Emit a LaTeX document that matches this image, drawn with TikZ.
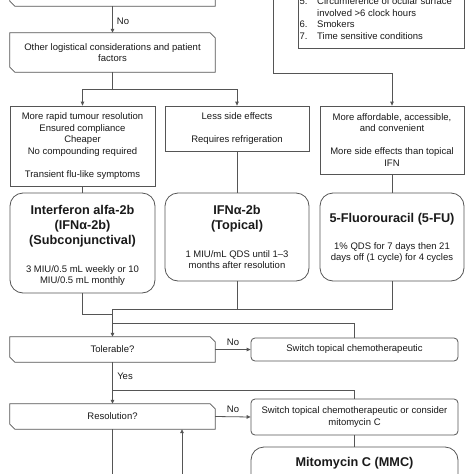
\documentclass[tikz,border=0pt]{standalone}
\usepackage{fontspec}
\setmainfont{Liberation Sans}
\usetikzlibrary{arrows.meta,calc}
\definecolor{lncol}{HTML}{555555}
\definecolor{txcol}{HTML}{1A1A1A}
\tikzset{
 ln/.style={draw=lncol, line width=0.8pt},
 arr/.style={ln, -{Triangle[length=4pt,width=3.6pt]}},
 txt/.style={text=txcol, font=\fontsize{9.5}{11.5}\selectfont, align=center, inner sep=0pt},
 ttl/.style={text=txcol, font=\fontsize{12.7}{15}\selectfont\bfseries, align=center, inner sep=0pt},
 sq/.style={ln, rectangle, inner sep=0pt},
 rnd/.style={ln, rectangle, rounded corners=13pt, inner sep=0pt},
 srnd/.style={ln, rectangle, rounded corners=4pt, inner sep=0pt},
 hid/.style={rectangle, inner sep=0pt},
 lbl/.style={text=txcol, font=\fontsize{9.5}{11.5}\selectfont, inner sep=0pt},
}
\begin{document}
\begin{tikzpicture}[x=1pt,y=-1pt]
\useasboundingbox (0,0) rectangle (474,474);
\clip (0,0) rectangle (474,474);
\fill[white] (0,0) rectangle (474,474);

% top partial boxes
\node[hid, minimum width=205pt, minimum height=56pt] (tl) at (112.5,-22) {};
\draw[ln] (tl.north west) -- ([xshift=-5pt]tl.north east) -- ([yshift=-5pt]tl.north east) -- (tl.south east) -- ([xshift=5pt]tl.south west) -- ([yshift=5pt]tl.south west) -- cycle;
\node[sq, minimum width=166pt, minimum height=108pt] (tr) at (381,-6) {};
\node[lbl, align=left, anchor=west] (trt) at (299.5,18.5) {\makebox[17.5pt][l]{5.}Circumference of ocular surface\\\hspace*{17.5pt}involved >6 clock hours\\\makebox[17.5pt][l]{6.}Smokers\\\makebox[17.5pt][l]{7.}Time sensitive conditions};
\coordinate (src) at (273,-10);

% other logistical
\node[hid, minimum width=205pt, minimum height=39pt, txt] (oth) at (112.5,52.5) {Other logistical considerations and patient\\factors};
\draw[ln] (oth.north west) -- ([xshift=-5pt]oth.north east) -- ([yshift=-5pt]oth.north east) -- (oth.south east) -- ([xshift=5pt]oth.south west) -- ([yshift=5pt]oth.south west) -- cycle;

% three option boxes
\node[sq, minimum width=145pt, minimum height=80pt, txt] (b1) at (82.5,146) {More rapid tumour resolution\\Ensured compliance\\Cheaper\\No compounding required\\[11.5pt]Transient flu-like symptoms};
\node[sq, minimum width=144pt, minimum height=45pt, txt] (b2) at (237,128.5) {Less side effects\\[11.5pt]Requires refrigeration};
\node[sq, minimum width=144pt, minimum height=68pt, txt] (b3) at (392,140) {More affordable, accessible,\\and convenient\\[11.5pt]More side effects than topical\\IFN};

% drug boxes
\node[rnd, minimum width=145pt, minimum height=100pt] (r1) at (82.5,243) {};
\node[ttl] (r1t) at (82.5,226.5) {Interferon alfa-2b\\(IFNα-2b)\\(Subconjunctival)};
\node[txt] (r1d) at (82.5,275.5) {3 MIU/0.5 mL weekly or 10\\MIU/0.5 mL monthly};
\node[rnd, minimum width=144pt, minimum height=88pt] (r2) at (237,237) {};
\node[ttl] (r2t) at (237,219) {IFNα-2b\\(Topical)};
\node[txt] (r2d) at (237,259.5) {1 MIU/mL QDS until 1–3\\months after resolution};
\node[rnd, minimum width=144pt, minimum height=88pt] (r3) at (392,237) {};
\node[ttl] (r3t) at (392,219) {5-Fluorouracil (5-FU)};
\node[txt] (r3d) at (392,252.5) {1\% QDS for 7 days then 21\\days off (1 cycle) for 4 cycles};

% decisions
\node[hid, minimum width=205pt, minimum height=25pt, txt] (tol) at (112.5,349.5) {Tolerable?};
\draw[ln] (tol.north west) -- ([xshift=-5pt]tol.north east) -- ([yshift=-5pt]tol.north east) -- (tol.south east) -- ([xshift=5pt]tol.south west) -- ([yshift=5pt]tol.south west) -- cycle;
\node[srnd, minimum width=207pt, minimum height=23pt, txt] (sw1) at (354.5,349.5) {Switch topical chemotherapeutic};
\node[hid, minimum width=205pt, minimum height=25pt, txt] (res) at (112.5,416.5) {Resolution?};
\draw[ln] (res.north west) -- ([xshift=-5pt]res.north east) -- ([yshift=-5pt]res.north east) -- (res.south east) -- ([xshift=5pt]res.south west) -- ([yshift=5pt]res.south west) -- cycle;
\node[srnd, minimum width=207pt, minimum height=36pt, txt] (sw2) at (354.5,417) {Switch topical chemotherapeutic or consider\\mitomycin C};
\node[rnd, minimum width=207pt, minimum height=80pt] (mmc) at (354.5,487) {};
\node[ttl] (mmct) at (354.5,463) {Mitomycin C (MMC)};

% connectors
\draw[arr] (tl.south) -- (oth.north);
\node[lbl] (no1) at (123,21) {No};
\draw[arr] (src) -- (273,73) -| (b3.north);
\draw[ln] (oth.south) -- (112.5,89) coordinate (j2);
\draw[arr] (j2) -| (b1.north);
\draw[arr] (j2) -| (b2.north);
\draw[ln] (b1.south) -- (r1.north);
\draw[ln] (b2.south) -- (r2.north);
\draw[ln] (b3.south) -- (r3.north);
\coordinate (m) at (112.5,309);
\draw[ln] (r3.south) |- (m);
\draw[ln] (r2.south) -- (237,309);
\draw[ln] (r1.south) |- (112.5,314);
\draw[arr] (m) -- (tol.north);
\draw[ln] (sw1.north) |- (112.5,323);
\draw[arr] (tol.east) -- (sw1.west);
\node[lbl] (no2) at (233,342) {No};
\draw[arr] (tol.south) -- (res.north);
\node[lbl] (yes) at (125,376) {Yes};
\draw[ln] (sw2.north) |- (112.5,390);
\draw[arr] (res.east) -- (sw2.west);
\node[lbl] (no3) at (233,409) {No};
\draw[ln] (sw2.south) -- (mmc.north);
\coordinate (e1) at (112.5,480);
\draw[ln] (res.south) -- (e1);
\coordinate (e2) at (182,480);
\draw[arr] (e2) -- (e2 |- res.south);
\end{tikzpicture}
\end{document}
